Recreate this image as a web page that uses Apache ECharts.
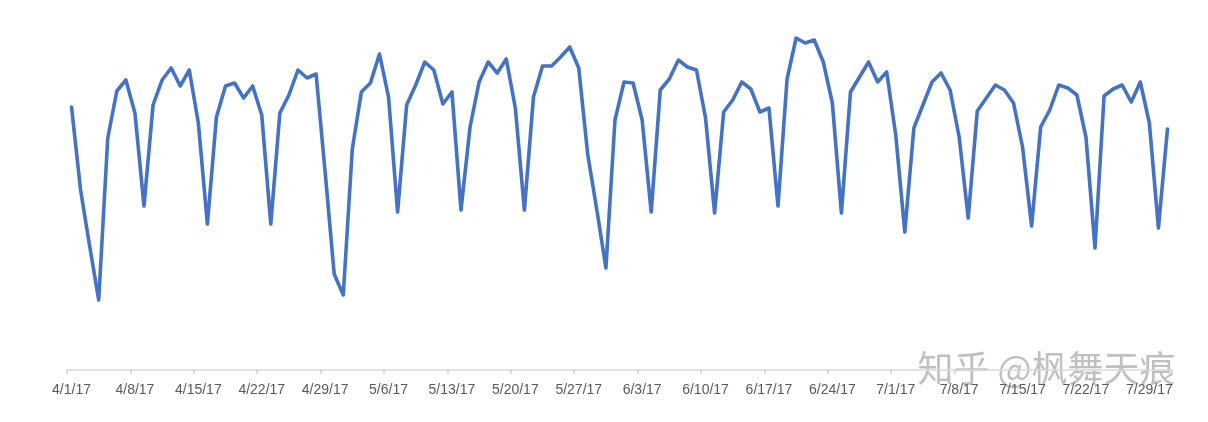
<!DOCTYPE html>
<html>
<head>
<meta charset="utf-8">
<script src="https://cdn.jsdelivr.net/npm/echarts@6/dist/echarts.min.js"></script>
<style>html,body{margin:0;padding:0;background:#fff;}#c{width:1208px;height:422px;}</style>
</head>
<body>
<div id="c"></div>
<script>
// dates 4/1/17 .. 7/31/17
const startMonth = [4, 5, 6, 7];
const monthDays = [30, 31, 30, 31];
const categories = [];
for (let m = 0; m < startMonth.length; m++) {
  for (let d = 1; d <= monthDays[m]; d++) categories.push(startMonth[m] + '/' + d + '/17');
}
// values (relative units)
const values = [
  263,180,124,70,232,279,290,257,164,265,
  290,302,284,300,247,146,253,284,287,272,
  284,255,146,257,275,300,292,296,198,96,
  75,221,278,287,316,273,158,265,285,308,
  300,266,278,160,243,288,308,297,311,262,
  160,273,304,304,313,323,302,215,160,102,
  250,288,287,250,158,280,291,310,303,300,
  252,157,258,270,288,281,258,262,164,291,
  332,327,330,308,267,157,278,293,308,288,
  298,235,138,242,265,288,297,280,233,152,
  259,272,285,280,267,223,144,243,260,285,
  282,275,233,122,274,281,285,268,288,247,
  142,241
];
const watermark = '知乎 @枫舞天痕';

const chart = echarts.init(document.getElementById('c'), null, {renderer: 'canvas'});
chart.setOption({
  animation: false,
  backgroundColor: '#ffffff',
  grid: {left: 67, right: 36, top: 20, bottom: 52},
  xAxis: {
    type: 'category',
    data: categories,
    boundaryGap: true,
    axisLine: {show: true, lineStyle: {color: '#d9d9d9', width: 1.5}},
    axisTick: {show: true, alignWithLabel: false, interval: 6, length: 4, lineStyle: {color: '#d0d0d0', width: 1.5}},
    axisLabel: {interval: 6, margin: 13, color: '#595959', fontSize: 14, fontFamily: 'Liberation Sans, Arial, sans-serif'},
    splitLine: {show: false}
  },
  yAxis: {
    type: 'value', min: 0, max: 350, show: false,
    splitLine: {show: false}
  },
  series: [{
    type: 'line',
    data: values,
    showSymbol: false,
    symbol: 'none',
    lineStyle: {color: '#4472C4', width: 3.6, join: 'round', cap: 'round'},
    itemStyle: {color: '#4472C4'}
  }],
  graphic: [{
    type: 'text',
    left: 917,
    top: 350,
    silent: true,
    style: {
      text: watermark,
      fontSize: 36,
      fontFamily: 'Noto Sans CJK SC, sans-serif',
      fill: 'rgba(150,150,150,0.6)',
      stroke: 'rgba(255,255,255,0.6)',
      lineWidth: 1
    }
  }]
});
</script>
</body>
</html>
